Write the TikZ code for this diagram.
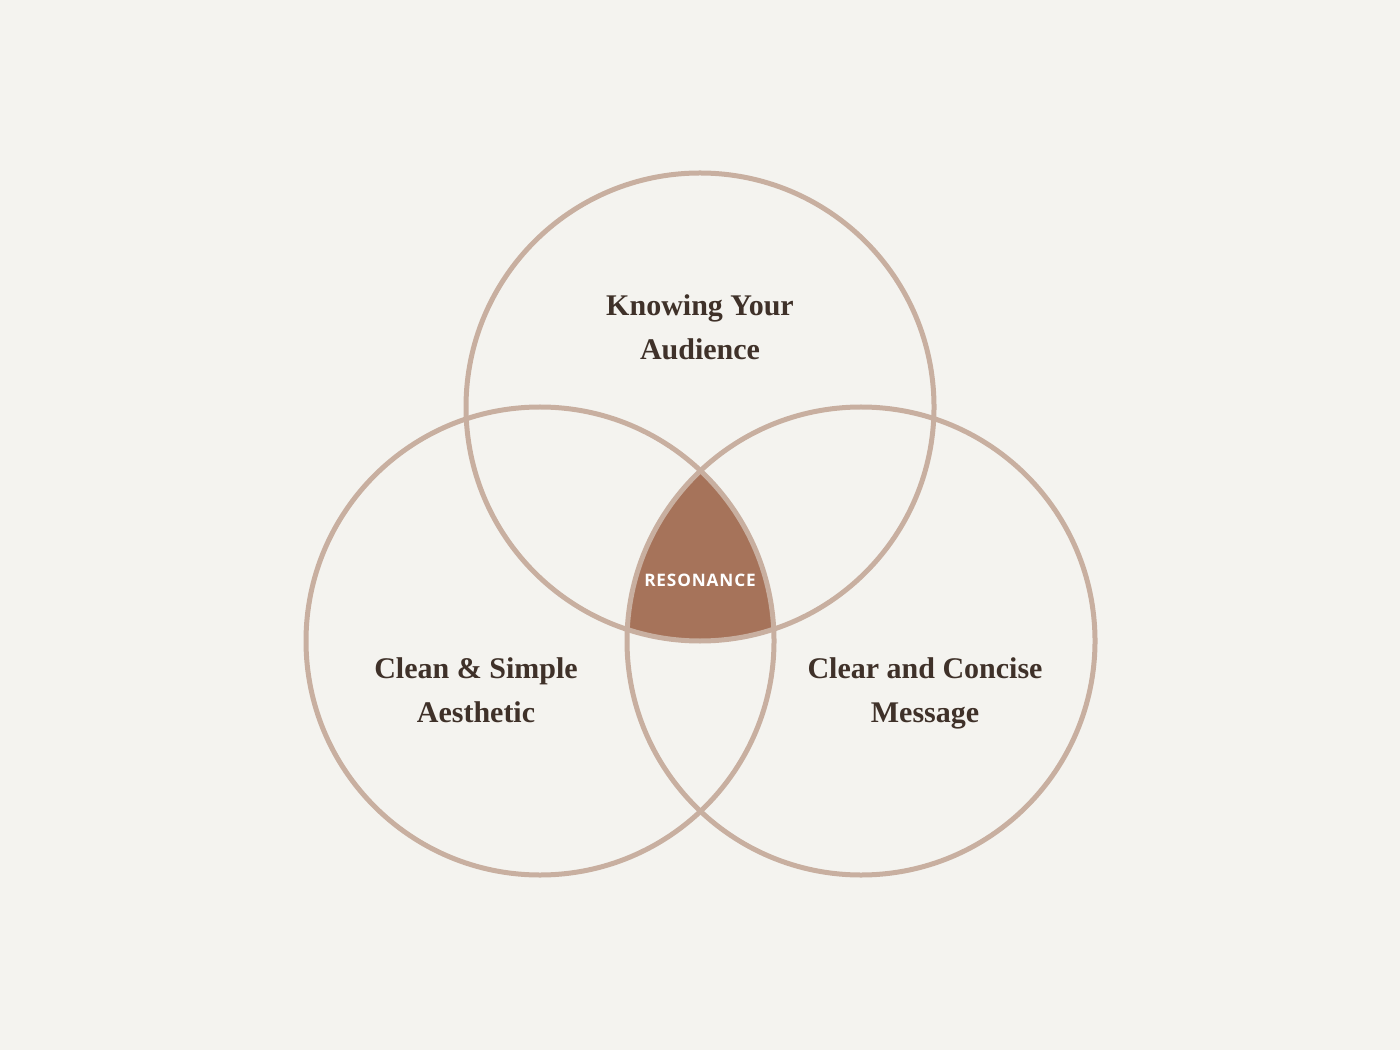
\documentclass[tikz,border=0pt]{standalone}
\usepackage{fontspec}
\setmainfont{Liberation Serif}
\newfontfamily\tagfont{Open Sans}
\usetikzlibrary{positioning}

\definecolor{paper}{HTML}{F4F3EF}
\definecolor{ring}{HTML}{C8AFA0}
\definecolor{core}{HTML}{A6735A}
\definecolor{ink}{HTML}{3F3129}

\begin{document}
\begin{tikzpicture}[
  x=0.5pt, y=0.5pt,
  ringline/.style={draw=ring, line width=2.5pt},
  lbl/.style={font=\fontsize{15}{22}\selectfont\bfseries, text=ink, align=center},
  tag/.style={font=\tagfont\bfseries\fontsize{8.6}{10}\selectfont\addfontfeatures{LetterSpace=5}, text=white},
]

% page and the three centres
\fill[paper] (0,0) rectangle (1400,1050);
\useasboundingbox (0,0) rectangle (1400,1050);
\coordinate (T) at (700,643);
\coordinate (L) at (540,409);
\coordinate (R) at (861,409);
\def\rad{234}

% the shared core
\begin{scope}
  \clip (T) circle[radius=\rad];
  \clip (L) circle[radius=\rad];
  \fill[core] (R) circle[radius=\rad];
\end{scope}

% the rings
\draw[ringline] (T) circle[radius=\rad];
\draw[ringline] (L) circle[radius=\rad];
\draw[ringline] (R) circle[radius=\rad];

% labels
\node[lbl] (audience) at (700,723) {Knowing Your\\Audience};
\node[lbl] (aesthetic) at (476,360) {Clean \& Simple\\Aesthetic};
\node[lbl] (message) at (925,357) {Clear and Concise\\Message};
\node[tag] (resonance) at (700,470) {RESONANCE};

\end{tikzpicture}
\end{document}
